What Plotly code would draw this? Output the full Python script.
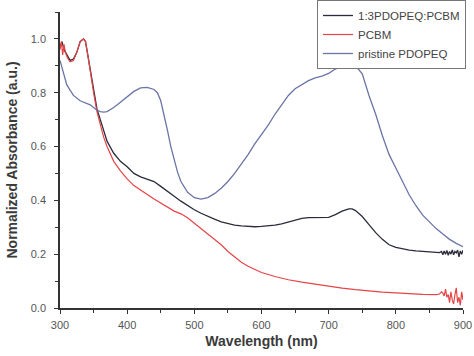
import plotly.graph_objects as go

# 1:3 PDOPEQ:PCBM
blend_wl = [300, 303, 306, 310, 315, 320, 325, 330, 335, 338, 342, 346, 350, 355, 360, 365, 370, 380, 390, 400,
            410, 420, 430, 440, 450, 460, 470, 480, 490, 500, 510, 520, 530, 540, 550, 560, 570, 580, 590, 600,
            610, 620, 630, 640, 650, 660, 670, 680, 690, 700, 710, 720, 730, 735, 740, 750, 760, 770, 780, 790,
            800, 810, 820, 830, 840, 850, 860, 865, 868, 870, 872, 874, 876, 878, 880, 882, 884, 886, 888, 890,
            892, 894, 896, 898, 900]
blend_abs = [0.97, 0.99, 0.96, 0.94, 0.92, 0.925, 0.95, 0.99, 1.0, 0.99, 0.93, 0.86, 0.80, 0.74, 0.70, 0.66, 0.62, 0.575, 0.545, 0.525,
             0.50, 0.487, 0.478, 0.47, 0.452, 0.435, 0.415, 0.397, 0.38, 0.365, 0.352, 0.34, 0.33, 0.32, 0.313, 0.308, 0.305, 0.303, 0.302, 0.303,
             0.305, 0.308, 0.313, 0.32, 0.327, 0.333, 0.336, 0.336, 0.335, 0.337, 0.347, 0.36, 0.368, 0.368, 0.362, 0.34, 0.31, 0.28, 0.255, 0.235,
             0.225, 0.219, 0.215, 0.212, 0.21, 0.208, 0.207, 0.206, 0.21, 0.198, 0.212, 0.20, 0.214, 0.196, 0.21, 0.20, 0.216, 0.198, 0.21, 0.205,
             0.215, 0.19, 0.212, 0.20, 0.215]

# PCBM
pcbm_wl = [300, 302, 304, 306, 308, 311, 315, 320, 325, 330, 335, 338, 342, 346, 350, 355, 360, 365, 370, 375, 380, 390, 400,
           410, 420, 430, 440, 450, 460, 470, 480, 490, 500, 510, 520, 530, 540, 550, 560, 570, 580, 590, 600,
           620, 640, 660, 680, 700, 720, 740, 760, 780, 800, 820, 840, 860, 865, 868, 870, 872, 874, 876, 878, 880,
           882, 884, 886, 888, 890, 892, 894, 896, 898, 900]
pcbm_abs = [0.96, 0.99, 0.94, 0.98, 0.95, 0.93, 0.915, 0.92, 0.95, 0.99, 1.0, 0.99, 0.93, 0.86, 0.80, 0.73, 0.68, 0.635, 0.60, 0.57, 0.545, 0.51, 0.48,
            0.455, 0.44, 0.422, 0.405, 0.39, 0.375, 0.36, 0.35, 0.335, 0.315, 0.295, 0.275, 0.255, 0.235, 0.21, 0.19, 0.17, 0.155, 0.143, 0.132,
            0.117, 0.105, 0.096, 0.088, 0.08, 0.074, 0.068, 0.063, 0.059, 0.056, 0.053, 0.051, 0.05, 0.052, 0.06, 0.055, 0.045, 0.07, 0.04, 0.05, 0.02,
            0.06, 0.03, 0.015, 0.05, 0.075, 0.02, 0.04, 0.01, 0.06, 0.03]

# pristine PDOPEQ
pdopeq_wl = [300, 305, 310, 315, 320, 330, 340, 345, 350, 355, 360, 365, 370, 380, 390, 400, 410, 420, 430, 440,
             445, 450, 455, 460, 465, 470, 475, 480, 490, 500, 510, 520, 530, 540, 550, 560, 570, 580, 590, 600,
             610, 620, 630, 640, 650, 660, 670, 680, 690, 700, 710, 720, 730, 735, 740, 750, 760, 770, 780, 790,
             800, 810, 820, 830, 840, 850, 860, 870, 880, 890, 900]
pdopeq_abs = [0.92, 0.87, 0.83, 0.81, 0.79, 0.77, 0.76, 0.755, 0.745, 0.735, 0.73, 0.728, 0.73, 0.745, 0.765, 0.785, 0.805, 0.818, 0.82, 0.812,
              0.80, 0.77, 0.72, 0.66, 0.60, 0.55, 0.505, 0.47, 0.43, 0.41, 0.405, 0.41, 0.425, 0.445, 0.47, 0.50, 0.535, 0.57, 0.61, 0.645,
              0.68, 0.72, 0.755, 0.79, 0.815, 0.83, 0.845, 0.855, 0.862, 0.872, 0.888, 0.90, 0.907, 0.908, 0.90, 0.87, 0.79, 0.72, 0.64, 0.57,
              0.52, 0.47, 0.42, 0.38, 0.345, 0.32, 0.295, 0.275, 0.255, 0.24, 0.228]

series_names = ["1:3PDOPEQ:PCBM", "PCBM", "pristine PDOPEQ"]
x_ticks = [300, 400, 500, 600, 700, 800, 900]
y_ticks = [0.0, 0.2, 0.4, 0.6, 0.8, 1.0]

FONT = "Liberation Sans, Arial"

fig = go.Figure()
fig.add_trace(go.Scatter(x=blend_wl, y=blend_abs, mode="lines", name=series_names[0],
                         line=dict(color="#2a2c3c", width=1.3)))
fig.add_trace(go.Scatter(x=pcbm_wl, y=pcbm_abs, mode="lines", name=series_names[1],
                         line=dict(color="#e64446", width=1.2)))
fig.add_trace(go.Scatter(x=pdopeq_wl, y=pdopeq_abs, mode="lines", name=series_names[2],
                         line=dict(color="#6a74a6", width=1.3)))

axis_common = dict(showgrid=False, zeroline=False, showline=True, linecolor="#333333", linewidth=1.5,
                   ticks="outside", ticklen=4, tickwidth=1.2, tickcolor="#333333",
                   tickfont=dict(family=FONT, size=11, color="#555555"), automargin=False)

fig.update_xaxes(range=[300, 900], tickvals=x_ticks, ticktext=[str(v) for v in x_ticks],
                 minor=dict(dtick=50, ticks="outside", ticklen=3, tickwidth=1.2, tickcolor="#333333"),
                 title=dict(text="<b>Wavelength (nm)</b>", font=dict(family=FONT, size=14, color="#3a3a3a"), standoff=6),
                 ticklabelstandoff=2,
                 **axis_common)
fig.update_yaxes(range=[0, 1.1], tickvals=y_ticks, ticktext=[f"{v:.1f}" for v in y_ticks],
                 minor=dict(dtick=0.1, ticks="outside", ticklen=3, tickwidth=1.2, tickcolor="#333333"),
                 title=dict(text="<b>Normalized Absorbance (a.u.)</b>", font=dict(family=FONT, size=14, color="#3a3a3a"), standoff=10),
                 ticklabelstandoff=6,
                 **axis_common)

fig.update_layout(
    width=474, height=356,
    margin=dict(l=60, r=11, t=12, b=48, autoexpand=False),
    plot_bgcolor="white", paper_bgcolor="white",
    legend=dict(xref="container", yref="container", x=466 / 474, y=1.0,
                xanchor="right", yanchor="top",
                bgcolor="white", bordercolor="#777777", borderwidth=1,
                font=dict(family=FONT, size=11.5, color="#444444"),
                itemwidth=30, tracegroupgap=0),
    showlegend=True,
)

fig.write_html("out.html", config={"displayModeBar": False},
               post_script="document.body.style.margin='0';document.body.style.overflow='hidden';")
